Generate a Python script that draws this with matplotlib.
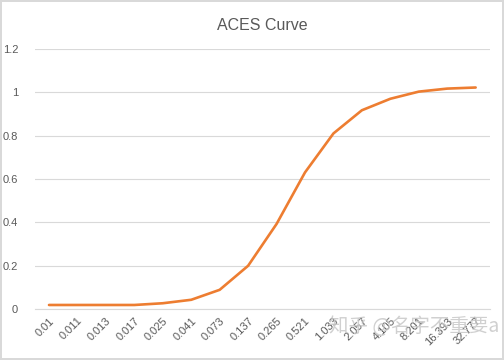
import matplotlib
matplotlib.use("Agg")
import matplotlib.pyplot as plt

# ── Data ─────────────────────────────────────────────────────────────────────
x_labels = ["0.01", "0.011", "0.013", "0.017", "0.025", "0.041", "0.073",
            "0.137", "0.265", "0.521", "1.033", "2.057", "4.105", "8.201",
            "16.393", "32.777"]
y_values = [0.018, 0.018, 0.018, 0.018, 0.026, 0.042, 0.088, 0.199, 0.392,
            0.630, 0.810, 0.917, 0.970, 1.003, 1.017, 1.022]
y_ticks = [0, 0.2, 0.4, 0.6, 0.8, 1.0, 1.2]
y_tick_labels = ["0", "0.2", "0.4", "0.6", "0.8", "1", "1.2"]

TXT = "#595959"
GRID = "#D9D9D9"
LINE = "#ED7D31"

plt.rcParams["font.family"] = ["Liberation Sans", "Noto Sans CJK SC", "DejaVu Sans"]

fig = plt.figure(figsize=(5.04, 3.6), dpi=100)
fig.patch.set_facecolor("white")
fig.patch.set_edgecolor("#D9D9D9")
fig.patch.set_linewidth(1.5)

ax = fig.add_axes([0.069, 0.142, 0.903, 0.722])
xs = list(range(len(x_labels)))
ax.plot(xs, y_values, color=LINE, lw=1.9, solid_capstyle="round", zorder=3)

ax.set_xlim(-0.5, len(x_labels) - 0.5)
ax.set_ylim(0, 1.2)
ax.set_yticks(y_ticks)
ax.set_yticklabels(y_tick_labels)
ax.set_xticks(xs)
ax.set_xticklabels(x_labels, rotation=45, ha="right", rotation_mode="anchor")

ax.grid(True, axis="y", color=GRID, lw=0.8)
ax.set_axisbelow(True)
for s in ["top", "right", "left"]:
    ax.spines[s].set_visible(False)
ax.spines["bottom"].set_color(GRID)
ax.spines["bottom"].set_linewidth(0.8)
ax.tick_params(axis="both", length=0, colors=TXT, labelsize=8)
ax.tick_params(axis="y", pad=12)
ax.tick_params(axis="x", pad=5)

ax.set_title("ACES Curve", fontsize=11.5, color=TXT, pad=14)

# watermark
fig.text(0.99, 0.092, "知乎 @名字不重要a", ha="right", va="center",
         fontsize=14, color="#C8C8C8", alpha=0.85,
         family=["Noto Sans CJK SC", "DejaVu Sans"])

fig.savefig("out.png", dpi=100)
